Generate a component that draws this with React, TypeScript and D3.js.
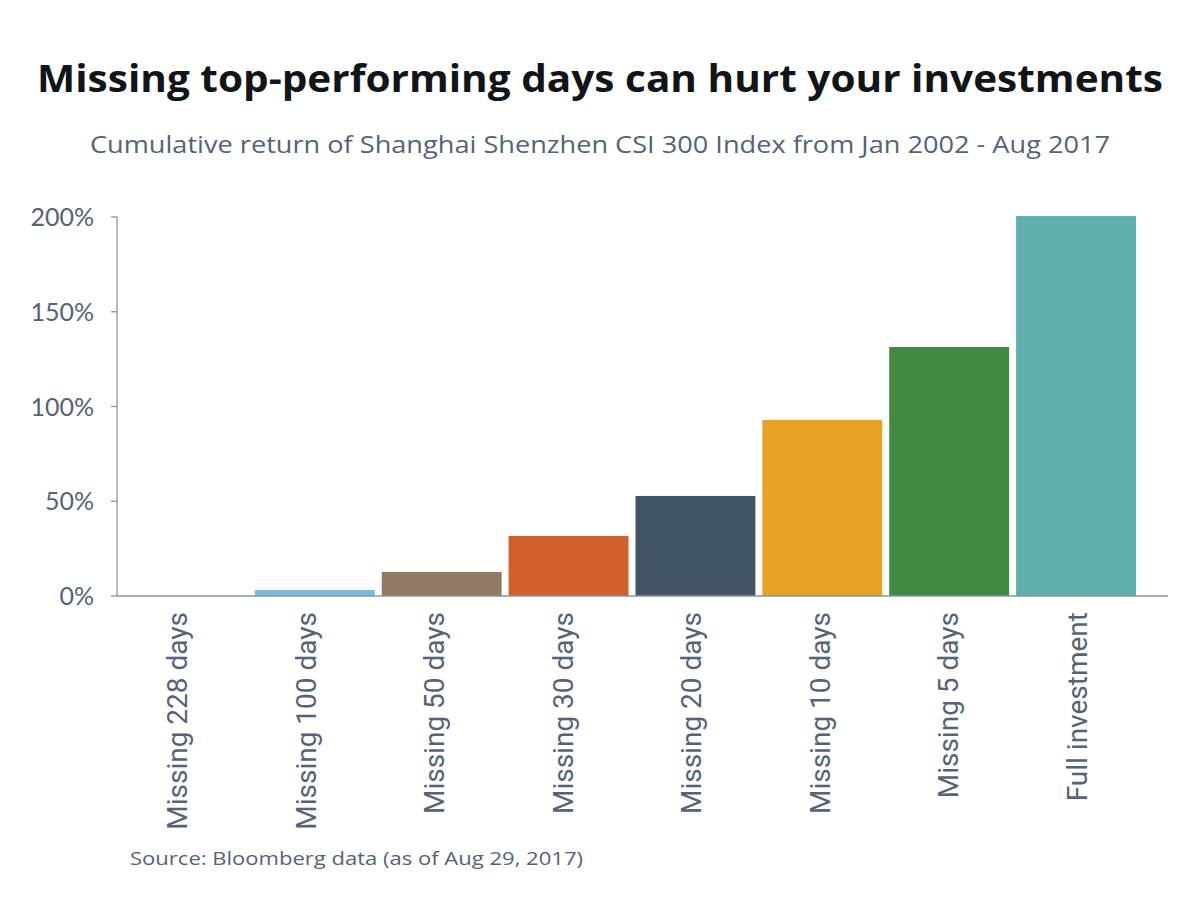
import React from "react";
import * as d3 from "d3";

// Cumulative return (%) of the CSI 300 index for each scenario
const categories = [
  "Missing 228 days",
  "Missing 100 days",
  "Missing 50 days",
  "Missing 30 days",
  "Missing 20 days",
  "Missing 10 days",
  "Missing 5 days",
  "Full investment",
];
const returns = [0, 3.2, 12.7, 31.7, 52.8, 92.9, 131.4, 200.5];
const palette = [
  "#7ab9e0",
  "#7ab9e0",
  "#927966",
  "#d2602a",
  "#415566",
  "#e7a125",
  "#418840",
  "#60afaf",
];
const yTicks = [0, 50, 100, 150, 200];

const W = 1200;
const H = 900;
const axisLeft = 117;
const axisRight = 1168;
const plotTop = 217;
const plotBottom = 596;

const TEXT = "#566277";
const AXIS = "#8d949f";
const SANS = "'Open Sans', Lato, sans-serif";

export default function App() {
  const x = d3
    .scaleBand<string>()
    .domain(categories)
    .range([124.5, 1139.5])
    .paddingInner(7 / 127)
    .paddingOuter(3.5 / 127);

  const labelX = d3.scalePoint<string>().domain(categories).range([187, 1087]);

  const y = d3.scaleLinear().domain([0, 200]).range([plotBottom, plotTop]);

  return (
    <svg
      width={W}
      height={H}
      viewBox={`0 0 ${W} ${H}`}
      style={{ display: "block", position: "absolute", left: 0, top: 0, background: "#fff" }}
    >
      <text
        x={W / 2}
        y={92}
        textAnchor="middle"
        fontFamily={SANS}
        fontWeight={700}
        fontSize={38}
        fill="#111418"
        textLength={1126}
        lengthAdjust="spacingAndGlyphs"
      >
        Missing top-performing days can hurt your investments
      </text>
      <text
        x={W / 2}
        y={153}
        textAnchor="middle"
        fontFamily={SANS}
        fontSize={23}
        fill={TEXT}
        textLength={1020}
        lengthAdjust="spacingAndGlyphs"
      >
        Cumulative return of Shanghai Shenzhen CSI 300 Index from Jan 2002 - Aug 2017
      </text>

      {/* bars */}
      {categories.map((c, i) => {
        const v = returns[i];
        const top = y(Math.max(0, v));
        const h = Math.abs(y(v) - y(0));
        return (
          <rect
            key={c}
            x={x(c)}
            y={top}
            width={x.bandwidth()}
            height={h}
            fill={palette[i]}
          />
        );
      })}

      {/* y axis */}
      <line x1={axisLeft} x2={axisLeft} y1={plotTop} y2={plotBottom} stroke={AXIS} strokeWidth={1.3} />
      {yTicks.map((t) => (
        <g key={t}>
          <line x1={axisLeft - 6} x2={axisLeft} y1={y(t)} y2={y(t)} stroke={AXIS} strokeWidth={1.3} />
          <text
            x={94}
            y={y(t)}
            dy="0.36em"
            textAnchor="end"
            fontFamily="Lato, 'Open Sans', sans-serif"
            fontSize={25}
            fill={TEXT}
          >
            {`${t}%`}
          </text>
        </g>
      ))}

      {/* x axis */}
      <line x1={axisLeft} x2={axisRight} y1={plotBottom} y2={plotBottom} stroke={AXIS} strokeWidth={1.5} />
      {categories.map((c) => (
        <text
          key={c}
          transform={`translate(${labelX(c)},612) rotate(-90)`}
          textAnchor="end"
          fontFamily="Roboto, 'Open Sans', sans-serif"
          fontSize={28}
          fill={TEXT}
        >
          {c}
        </text>
      ))}

      <text
        x={130}
        y={865}
        fontFamily={SANS}
        fontSize={19}
        fill={TEXT}
        textLength={453}
        lengthAdjust="spacingAndGlyphs"
      >
        Source: Bloomberg data (as of Aug 29, 2017)
      </text>
    </svg>
  );
}
